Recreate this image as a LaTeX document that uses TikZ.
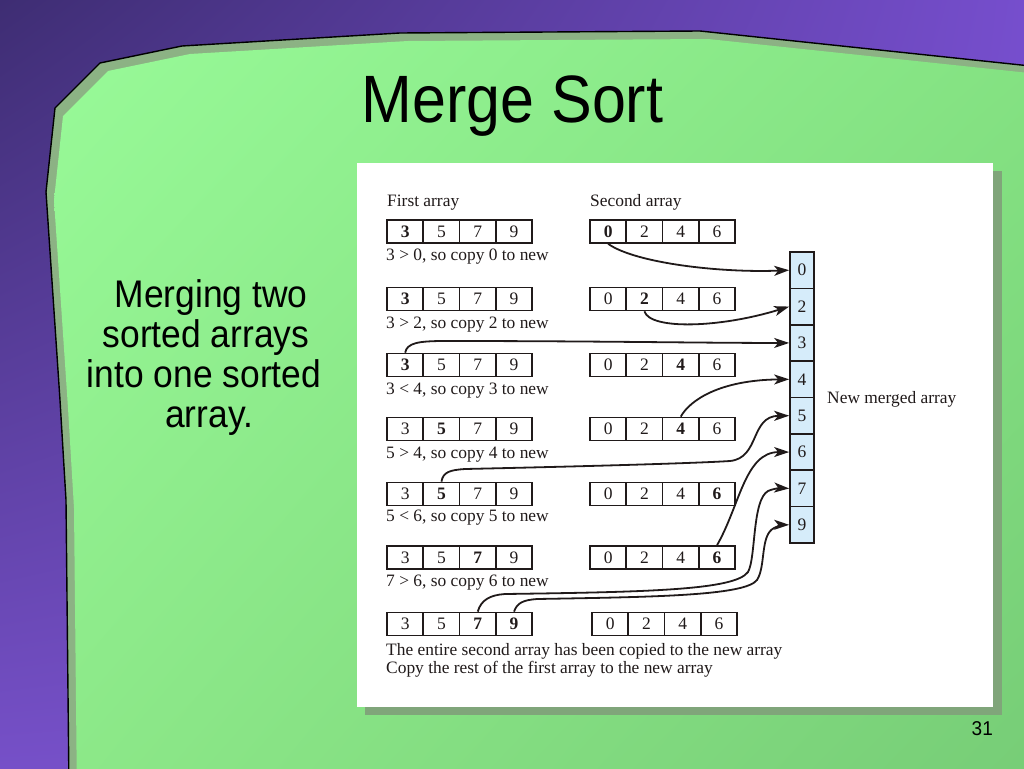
\documentclass[tikz,border=0pt]{standalone}
\usepackage{fontspec}
\setmainfont{Liberation Serif}
\newfontfamily\slidesans{Liberation Sans}
\usetikzlibrary{arrows.meta,shadings}
\definecolor{purpUL}{RGB}{62,45,115}
\definecolor{purpUR}{RGB}{118,78,205}
\definecolor{purpLL}{RGB}{118,80,200}
\definecolor{purpLR}{RGB}{122,82,208}
\definecolor{grnUL}{RGB}{152,250,152}
\definecolor{grnUR}{RGB}{132,226,130}
\definecolor{grnLL}{RGB}{140,232,136}
\definecolor{grnLR}{RGB}{118,204,118}
\definecolor{band}{RGB}{140,178,132}
\definecolor{panelshadow}{RGB}{128,165,122}
\definecolor{figline}{RGB}{32,26,26}
\definecolor{mergefill}{RGB}{214,236,250}
\newcommand\quadrow[7]{%
  \node[cell] (#1a) at ({#2+18.15},#3) {#4};
  \node[cell] (#1b) at ({#2+54.45},#3) {#5};
  \node[cell] (#1c) at ({#2+90.75},#3) {#6};
  \node[cell] (#1d) at ({#2+127.05},#3) {#7};}
\begin{document}
\begin{tikzpicture}[x=1pt,y=-1pt,
  cell/.style={draw=figline,line width=1.7pt,minimum width=36.3pt,minimum height=23pt,inner sep=0pt,text=figline,font=\fontsize{17.5}{20}\selectfont},
  mcell/.style={draw=figline,fill=mergefill,line width=1.7pt,minimum width=24pt,minimum height=36.375pt,inner sep=0pt,text=figline,font=\fontsize{17.5}{20}\selectfont},
  figtext/.style={anchor=base west,inner sep=0pt,text=figline,font=\fontsize{17.4}{20}\selectfont},
  arr/.style={draw=figline,line width=1.8pt,-{Stealth[length=15pt,width=10pt,inset=4pt]}},
  sanstext/.style={inner sep=0pt,anchor=base,text=black}]
\path[use as bounding box] (0,0) rectangle (1024,768);
\begin{scope}
\clip (0,0) rectangle (1024,768);
% purple background
\shade[upper left=purpUL,upper right=purpUR,lower left=purpLL,lower right=purpLR] (0,0) rectangle (1024,768);
% band (outer green shape)
\fill[band] (69,790) -- (66,500) -- (60,400) -- (46,192) -- (55,108) -- (100,63) -- (182,46) -- (400,33) -- (700,31) -- (1040,67) -- (1040,790) -- cycle;
% inner green
\begin{scope}
\clip (69,790) -- (66,500) -- (60,400) -- (46,192) -- (55,108) -- (100,63) -- (182,46) -- (400,33) -- (700,31) -- (1040,67) -- (1040,790) -- cycle;
\shade[upper left=grnUL,upper right=grnUR,lower left=grnLL,lower right=grnLR]
  (77,798) -- (74,508) -- (68,408) -- (54,200) -- (63,116) -- (108,71) -- (190,54) -- (408,41) -- (708,39) -- (1048,75) -- (1048,798) -- cycle;
\end{scope}
\draw[black,line width=1.4pt] (69,790) -- (66,500) -- (60,400) -- (46,192) -- (55,108) -- (100,63) -- (182,46) -- (400,33) -- (700,31) -- (1040,67);
\end{scope}
% title and side text
\node[sanstext,font=\slidesans\fontsize{67}{70}\selectfont,xscale=0.91] (title) at (512.5,122) {Merge Sort};
\node[sanstext,font=\slidesans\fontsize{38.5}{40}\selectfont,xscale=0.92] (t1) at (211,307.7) {Merging two};
\node[sanstext,font=\slidesans\fontsize{38.5}{40}\selectfont,xscale=0.92] (t2) at (206,347.7) {sorted arrays};
\node[sanstext,font=\slidesans\fontsize{38.5}{40}\selectfont,xscale=0.92] (t3) at (204,387.7) {into one sorted};
\node[sanstext,font=\slidesans\fontsize{38.5}{40}\selectfont,xscale=0.92] (t4) at (209,427.7) {array.};
\node[inner sep=0pt,anchor=base east,font=\slidesans\fontsize{20}{22}\selectfont,xscale=0.95] (pnum) at (993,735) {31};
% panel
\fill[panelshadow] (365,171) rectangle (1002,715);
\fill[white] (357,163) rectangle (993,707);
% labels
\node[figtext] (lfirst) at (387,206.7) {First array};
\node[figtext] (lsecond) at (590,206.7) {Second array};
% rows
\quadrow{f1}{387}{231.5}{\textbf{3}}{5}{7}{9}
\quadrow{s1}{590}{231.5}{\textbf{0}}{2}{4}{6}
\node[figtext] (c1) at (386,260.5) {3 > 0, so copy 0 to new};
\quadrow{f2}{387}{299}{\textbf{3}}{5}{7}{9}
\quadrow{s2}{590}{299}{0}{\textbf{2}}{4}{6}
\node[figtext] (c2) at (386,328) {3 > 2, so copy 2 to new};
\quadrow{f3}{387}{365}{\textbf{3}}{5}{7}{9}
\quadrow{s3}{590}{365}{0}{2}{\textbf{4}}{6}
\node[figtext] (c3) at (386,394) {3 < 4, so copy 3 to new};
\quadrow{f4}{387}{429}{3}{\textbf{5}}{7}{9}
\quadrow{s4}{590}{429}{0}{2}{\textbf{4}}{6}
\node[figtext] (c4) at (386,458.5) {5 > 4, so copy 4 to new};
\quadrow{f5}{387}{494}{3}{\textbf{5}}{7}{9}
\quadrow{s5}{590}{494}{0}{2}{4}{\textbf{6}}
\node[figtext] (c5) at (386,521.5) {5 < 6, so copy 5 to new};
\quadrow{f6}{387}{557.5}{3}{5}{\textbf{7}}{9}
\quadrow{s6}{590}{557.5}{0}{2}{4}{\textbf{6}}
\node[figtext] (c6) at (386,586.5) {7 > 6, so copy 6 to new};
\quadrow{f7}{387}{624}{3}{5}{\textbf{7}}{\textbf{9}}
\quadrow{s7}{592}{624}{0}{2}{4}{6}
\node[figtext] (c7) at (386,655) {The entire second array has been copied to the new array};
\node[figtext] (c8) at (386,673.3) {Copy the rest of the first array to the new array};
% merged array
\node[mcell] (m0) at (802,270.19) {0};
\node[mcell] (m1) at (802,306.56) {2};
\node[mcell] (m2) at (802,342.94) {3};
\node[mcell] (m3) at (802,379.31) {4};
\node[mcell] (m4) at (802,415.69) {5};
\node[mcell] (m5) at (802,452.06) {6};
\node[mcell] (m6) at (802,488.44) {7};
\node[mcell] (m7) at (802,524.81) {9};
\node[figtext] (lnew) at (827,403.5) {New merged array};
% arrows
\draw[arr] (s1a.south) .. controls (635,263) and (720,273) .. (m0.west);
\draw[arr] (s2b.south) .. controls (650,330) and (720,328) .. (m1.west);
\draw[arr] (f3a.north) .. controls (407,343) and (418,341) .. (445,341) .. controls (600,341) and (700,343) .. (m2.west);
\draw[arr] (s4c.north) .. controls (690,400) and (720,380) .. (m3.west);
\draw[arr] (f5b.north) .. controls (443,472) and (450,470) .. (465,469) .. controls (600,466) and (700,463) .. (730,461) .. controls (760,458) and (750,416) .. (m4.west);
\draw[arr] (s6d.north) .. controls (740,505) and (745,452) .. (m5.west);
\draw[arr] (f7c.north) .. controls (481,600) and (490,595) .. (505,594) .. controls (650,592) and (735,590) .. (748,572) .. controls (756,558) and (752,500) .. (768,491) .. controls (775,488) and (782,488) .. (m6.west);
\draw[arr] (f7d.north) .. controls (517,603) and (523,600) .. (537,599) .. controls (650,597) and (745,596) .. (757,580) .. controls (766,566) and (760,535) .. (774,528) .. controls (779,525.5) and (783,524.8) .. (m7.west);
\end{tikzpicture}
\end{document}
